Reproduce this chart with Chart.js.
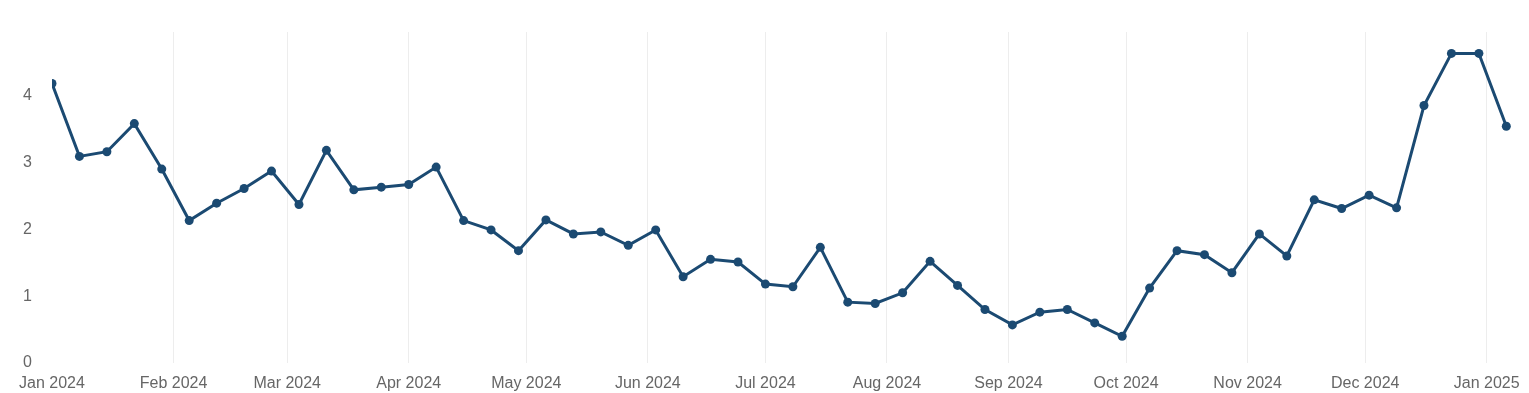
<!DOCTYPE html>
<html lang="en">
<head>
    <meta charset="UTF-8">
    <title>Weekly trend 2024</title>
    <script src="https://cdn.jsdelivr.net/npm/chart.js"></script>
    <style>
        html, body { margin: 0; padding: 0; background: #fff; }
        #wrap { width: 1529px; height: 393px; }
    </style>
</head>
<body>
    <div id="wrap"><canvas id="trendChart"></canvas></div>

    <script>
        // weekly data points
        const weekDates = [
            '2024-01-01', '2024-01-08', '2024-01-15', '2024-01-22', '2024-01-29',
            '2024-02-05', '2024-02-12', '2024-02-19', '2024-02-26',
            '2024-03-04', '2024-03-11', '2024-03-18', '2024-03-25',
            '2024-04-01', '2024-04-08', '2024-04-15', '2024-04-22', '2024-04-29',
            '2024-05-06', '2024-05-13', '2024-05-20', '2024-05-27',
            '2024-06-03', '2024-06-10', '2024-06-17', '2024-06-24',
            '2024-07-01', '2024-07-08', '2024-07-15', '2024-07-22', '2024-07-29',
            '2024-08-05', '2024-08-12', '2024-08-19', '2024-08-26',
            '2024-09-02', '2024-09-09', '2024-09-16', '2024-09-23', '2024-09-30',
            '2024-10-07', '2024-10-14', '2024-10-21', '2024-10-28',
            '2024-11-04', '2024-11-11', '2024-11-18', '2024-11-25',
            '2024-12-02', '2024-12-09', '2024-12-16', '2024-12-23', '2024-12-30',
            '2025-01-06'
        ];
        const weekValues = [
            4.18, 3.09, 3.16, 3.58, 2.90, 2.13, 2.39, 2.61, 2.87, 2.37,
            3.18, 2.59, 2.63, 2.67, 2.93, 2.13, 1.99, 1.68, 2.14, 1.93,
            1.96, 1.76, 1.99, 1.29, 1.55, 1.51, 1.18, 1.14, 1.73, 0.91,
            0.89, 1.05, 1.52, 1.16, 0.80, 0.57, 0.76, 0.80, 0.60, 0.40,
            1.12, 1.68, 1.62, 1.35, 1.93, 1.60, 2.44, 2.31, 2.51, 2.32,
            3.85, 4.63, 4.63, 3.54
        ];

        // x axis ticks (month starts)
        const monthDates = [
            '2024-01-01', '2024-02-01', '2024-03-01', '2024-04-01', '2024-05-01', '2024-06-01',
            '2024-07-01', '2024-08-01', '2024-09-01', '2024-10-01', '2024-11-01', '2024-12-01',
            '2025-01-01'
        ];
        const monthLabels = [
            'Jan 2024', 'Feb 2024', 'Mar 2024', 'Apr 2024', 'May 2024', 'Jun 2024',
            'Jul 2024', 'Aug 2024', 'Sep 2024', 'Oct 2024', 'Nov 2024', 'Dec 2024',
            'Jan 2025'
        ];
        const yTicks = [0, 1, 2, 3, 4];

        // no date adapter offline, so dates become day numbers on a linear axis
        const startDate = Date.UTC(2024, 0, 1);
        function dayNumber(s) {
            let p = s.split('-').map(Number);
            return (Date.UTC(p[0], p[1] - 1, p[2]) - startDate) / 86400000;
        }

        const points = weekDates.map((d, i) => ({ x: dayNumber(d), y: weekValues[i] }));
        const monthDays = monthDates.map(dayNumber);

        const tickFont = { family: '"Liberation Sans", Arial, sans-serif', size: 16 };
        const lineColor = '#1b4a72';

        new Chart(document.getElementById('trendChart'), {
            type: 'line',
            data: {
                datasets: [{
                    data: points,
                    borderColor: lineColor,
                    backgroundColor: lineColor,
                    borderWidth: 3,
                    pointRadius: 4.5,
                    pointHoverRadius: 4.5,
                    pointBorderWidth: 0,
                    tension: 0
                }]
            },
            options: {
                responsive: true,
                maintainAspectRatio: false,
                animation: false,
                layout: { padding: { top: 32, right: 7, left: 0, bottom: 0 } },
                plugins: { legend: { display: false }, tooltip: { enabled: false } },
                scales: {
                    x: {
                        type: 'linear',
                        min: 0,
                        max: 375,
                        border: { display: false },
                        grid: {
                            // first month line sits on the plot edge and isn't drawn
                            color: ctx => ctx.index === 0 ? 'rgba(0,0,0,0)' : '#ededed',
                            lineWidth: 1,
                            drawTicks: false
                        },
                        afterBuildTicks: scale => { scale.ticks = monthDays.map(v => ({ value: v })); },
                        afterFit: scale => {
                            scale.height = 30;
                            // labels fit anyway, keep the plot edges fixed
                            scale.paddingLeft = 0;
                            scale.paddingRight = 0;
                        },
                        ticks: {
                            autoSkip: false,
                            maxRotation: 0,
                            padding: 11,
                            color: '#666',
                            font: tickFont,
                            callback: (v, i) => monthLabels[i]
                        }
                    },
                    y: {
                        min: 0,
                        max: 4.95,
                        border: { display: false },
                        grid: { display: false },
                        afterBuildTicks: scale => { scale.ticks = yTicks.map(v => ({ value: v })); },
                        afterFit: scale => { scale.width = 52; },
                        ticks: {
                            padding: 12,
                            color: '#666',
                            font: tickFont
                        }
                    }
                }
            }
        });
    </script>
</body>
</html>
